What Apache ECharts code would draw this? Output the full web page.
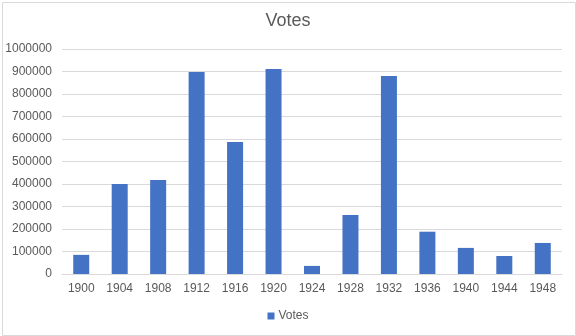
<!DOCTYPE html>
<html>
<head>
<meta charset="utf-8">
<script src="https://cdn.jsdelivr.net/npm/echarts@6/dist/echarts.min.js"></script>
<style>
html,body{margin:0;padding:0;background:#fff;}
#c{width:576px;height:336px;}
</style>
</head>
<body>
<div id="c"></div>
<script>
const categories = ['1900','1904','1908','1912','1916','1920','1924','1928','1932','1936','1940','1944','1948'];
const votes = [85000, 400000, 418000, 898000, 587000, 911000, 36000, 262000, 880000, 188000, 116000, 80000, 138000];
const seriesName = 'Votes';

const chart = echarts.init(document.getElementById('c'), null, {renderer:'canvas'});
const font = '"Liberation Sans", Arial, sans-serif';
chart.setOption({
  animation: false,
  backgroundColor: '#fff',
  title: {
    text: 'Votes', left: 'center', top: 7,
    textStyle: {color: '#595959', fontSize: 18, fontWeight: 'normal', fontFamily: font}
  },
  graphic: [{
    type: 'rect', left: 0, top: 0, silent: true,
    shape: {x: 0.5, y: 0.5, width: 573, height: 333},
    style: {fill: 'none', stroke: '#d9d9d9', lineWidth: 1}
  }],
  legend: {
    data: [seriesName], bottom: 9, left: 'center',
    itemWidth: 7, itemHeight: 7, itemGap: 4, icon: 'rect',
    textStyle: {color: '#595959', fontSize: 12, fontFamily: font, padding: [0,0,0,-1]}
  },
  grid: {left: 62, right: 14, top: 49, bottom: 62},
  xAxis: {
    type: 'category', data: categories,
    axisLine: {lineStyle: {color: '#d9d9d9'}},
    axisTick: {show: false},
    axisLabel: {color: '#595959', fontSize: 12, fontFamily: font, margin: 9}
  },
  yAxis: {
    type: 'value', min: 0, max: 1000000, interval: 100000,
    axisLine: {show: false}, axisTick: {show: false},
    splitLine: {lineStyle: {color: '#d9d9d9'}},
    axisLabel: {color: '#595959', fontSize: 12, fontFamily: font, margin: 10,
      formatter: v => String(v)}
  },
  series: [{
    name: seriesName, type: 'bar', data: votes,
    barWidth: 16,
    itemStyle: {color: '#4472C4'}
  }]
});
</script>
</body>
</html>
